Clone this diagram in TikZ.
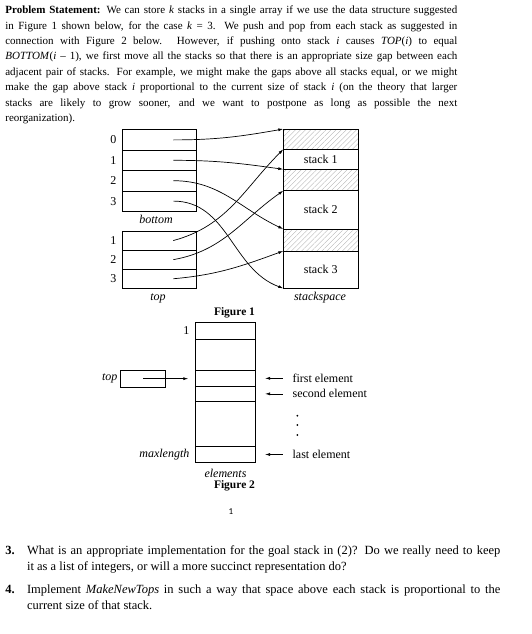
\documentclass[tikz,border=0pt]{standalone}
\usepackage{fontspec}
\setmainfont{Liberation Serif}
\newfontfamily\pagefont{Carlito}
\usetikzlibrary{arrows.meta, positioning, patterns.meta}

\begin{document}
\begin{tikzpicture}[
    x=1pt, y=-1pt,
    line width=0.7pt,
    lbl/.style={font=\fontsize{12}{14}\selectfont, inner sep=0pt},
    ital/.style={font=\fontsize{12}{14}\selectfont\itshape, inner sep=0pt},
    caption/.style={font=\fontsize{11.5}{13}\selectfont\bfseries, inner sep=0pt},
    cell/.style={draw, minimum width=74pt, inner sep=0pt, outer sep=0pt},
    elem/.style={cell, minimum width=59.6pt},
    gapcell/.style={cell, minimum width=75pt,
        pattern={Lines[angle=45, distance=3.6pt, line width=0.35pt]}, pattern color=gray!60},
    spacecell/.style={cell, minimum width=75pt, font=\fontsize{12}{14}\selectfont},
    ptr/.style={-{Latex[length=5pt,width=3pt]}},
    dotmark/.style={circle, fill, inner sep=0pt, minimum size=2pt},
    node distance=0pt
]
\useasboundingbox (0,0) rectangle (531,634);

% ------------------------
% Problem statement
% ------------------------
\node[anchor=north west, inner sep=0pt, text width=452pt, align=justify,
      font=\fontsize{11}{15.4}\selectfont] (stmt) at (5,2.5) {%
\strut\textbf{Problem Statement:} We can store \textit{k} stacks in a single array if we use the data structure suggested\linebreak
in Figure 1 shown below, for the case \textit{k} = 3. We push and pop from each stack as suggested in\linebreak
connection with Figure 2 below. However, if pushing onto stack \textit{i} causes \textit{TOP}(\textit{i}) to equal\linebreak
\textit{BOTTOM}(\textit{i} – 1), we first move all the stacks so that there is an appropriate size gap between each\linebreak
adjacent pair of stacks. For example, we might make the gaps above all stacks equal, or we might\linebreak
make the gap above stack \textit{i} proportional to the current size of stack \textit{i} (on the theory that larger\linebreak
stacks are likely to grow sooner, and we want to postpone as long as possible the next\linebreak
reorganization).};

% ------------------------
% Figure 1: bottom array
% ------------------------
\node[cell, minimum height=20.4pt, anchor=north west] (b0) at (122.7,129.7) {};
\foreach \i [count=\j from 0] in {1,2,3}
    \node[cell, minimum height=20.4pt, below=of b\j] (b\i) {};
\foreach \i in {0,...,3} {
    \node[lbl, left=6pt of b\i] (bn\i) {\i};
    \coordinate (bs\i) at ([xshift=-23.4pt]b\i.east);
}
\node[ital] (blabel) at (156,219.3) {bottom};

% ------------------------
% Figure 1: top array
% ------------------------
\node[cell, minimum height=19.1pt, anchor=north west] (t1) at (122.7,231) {};
\foreach \i [count=\j from 1] in {2,3}
    \node[cell, minimum height=19.1pt, below=of t\j] (t\i) {};
\foreach \i in {1,2,3} {
    \node[lbl, left=6pt of t\i] (tn\i) {\i};
    \coordinate (ts\i) at ([xshift=-23.4pt]t\i.east);
}
\node[ital] (tlabel) at (158,298.3) {top};

% ------------------------
% Figure 1: stackspace
% ------------------------
\node[gapcell, minimum height=20.3pt, anchor=north west] (s0) at (283.3,129) {};
\node[spacecell, minimum height=20pt, below=of s0] (s1) {stack 1};
\node[gapcell, minimum height=21.4pt, below=of s1] (s2) {};
\node[spacecell, minimum height=38.3pt, below=of s2] (s3) {stack 2};
\node[gapcell, minimum height=22pt, below=of s3] (s4) {};
\node[spacecell, minimum height=37.3pt, below=of s4] (s5) {stack 3};
\node[ital] (slabel) at (320,297.7) {stackspace};

% ------------------------
% Figure 1: pointers
% ------------------------
\draw[ptr] (bs0) to[out=0, in=190] (s0.north west);
\draw[ptr] (bs1) to[out=0, in=172] (s2.north west);
\draw[ptr] (bs2) to[out=0, in=155] (s4.north west);
\draw[ptr] (bs3) to[out=0, in=160] (s5.south west);
\draw[ptr] (ts1) to[out=15, in=225] (s1.north west);
\draw[ptr] (ts2) to[out=10, in=215] (s3.north west);
\draw[ptr] (ts3) to[out=5, in=200] (s5.north west);

\node[caption] (fig1) at (234.5,312.3) {Figure 1};

% ------------------------
% Figure 2: elements
% ------------------------
\node[elem, minimum height=17pt, anchor=north west] (e1) at (195.7,322.3) {};
\node[elem, minimum height=30.7pt, below=of e1] (egap1) {};
\node[elem, minimum height=16.7pt, below=of egap1] (efirst) {};
\node[elem, minimum height=14.3pt, below=of efirst] (esecond) {};
\node[elem, minimum height=45.7pt, below=of esecond] (egap2) {};
\node[elem, minimum height=15.6pt, below=of egap2] (elast) {};
\node[lbl, left=6pt of e1] (eidx) {1};
\node[ital, left=6pt of elast] (mlabel) {maxlength};
\node[ital] (elabel) at (225.5,473.3) {elements};

% top pointer
\node[cell, minimum width=45pt, minimum height=17.3pt, anchor=north west] (ptop) at (120.7,370) {};
\node[ital, left=3pt of ptop] (ptoplabel) {top};
\coordinate (ftip) at ([xshift=-7.4pt]efirst.west);
\draw[ptr] (ptop.center) -- (ptop.center -| ftip);

% element labels
\node[lbl, right=37pt of efirst] (lfirst) {first element};
\node[lbl, right=37pt of esecond] (lsecond) {second element};
\node[lbl, right=37pt of elast] (llast) {last element};
\draw[ptr, shorten <=9.6pt, shorten >=9.7pt] (lfirst.west) -- (efirst.east);
\draw[ptr, shorten <=9.6pt, shorten >=9.7pt] (lsecond.west) -- (esecond.east);
\draw[ptr, shorten <=9.6pt, shorten >=9.7pt] (llast.west) -- (elast.east);
\foreach \k/\y in {1/415.7, 2/425, 3/435}
    \node[dotmark] (dot\k) at (297.3,\y) {};

\node[caption] (fig2) at (234.5,485.7) {Figure 2};
\node[font=\fontsize{9}{10}\selectfont\pagefont, inner sep=0pt] (pagenum) at (231,512) {1};

% ------------------------
% Questions
% ------------------------
\node[anchor=north west, inner sep=0pt, text width=495pt, align=justify,
      font=\fontsize{12.5}{16}\selectfont] (tasks) at (5,543) {%
\noindent\hangindent=21.7pt\hangafter=1\strut\makebox[21.7pt][l]{\textbf{3.}}What is an appropriate implementation for the goal stack in (2)? Do we really need to keep\linebreak
it as a list of integers, or will a more succinct representation do?\par
\vspace{7.3pt}
\noindent\hangindent=21.7pt\hangafter=1\strut\makebox[21.7pt][l]{\textbf{4.}}Implement \textit{MakeNewTops} in such a way that space above each stack is proportional to the\linebreak
current size of that stack.\par};

\end{tikzpicture}
\end{document}
